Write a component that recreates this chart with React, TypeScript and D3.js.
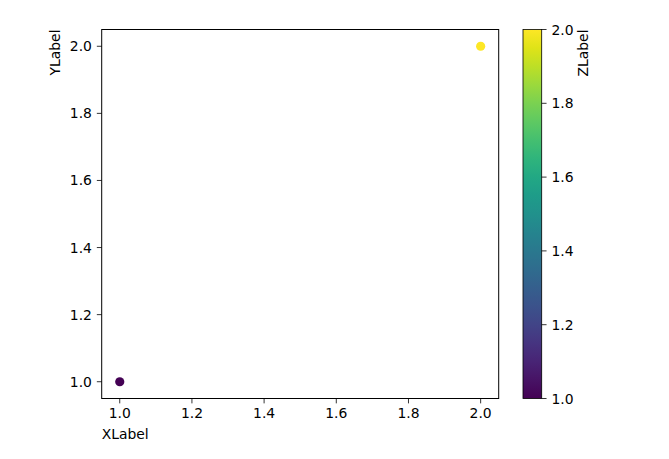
import React from "react";
import * as d3 from "d3";

const xs = [1, 2];
const ys = [1, 2];
const zs = [1, 2];
const xTicks = [1.0, 1.2, 1.4, 1.6, 1.8, 2.0];
const yTicks = [1.0, 1.2, 1.4, 1.6, 1.8, 2.0];
const zTicks = [1.0, 1.2, 1.4, 1.6, 1.8, 2.0];

const W = 669, H = 459;
const L = 101.7, R = 498.7, T = 29.5, B = 398.5;
const CBL = 523, CBR = 541.7;
const FS = 13.9;
const font = "DejaVu Sans";

export default function App() {
  const x = d3.scaleLinear().domain([0.95, 2.05]).range([L, R]);
  const y = d3.scaleLinear().domain([0.95, 2.05]).range([B, T]);
  const z = d3.scaleLinear().domain([1, 2]).range([B, T]);
  const color = d3.scaleSequential(d3.interpolateViridis).domain([1, 2]);
  const stops = d3.range(0, 1.0001, 0.05);
  const tl = 4.86;
  return (
    <svg width={W} height={H} style={{ display: "block", position: "absolute", left: 0, top: 0 }}
      fontFamily={font} fontSize={FS}>
      <rect width={W} height={H} fill="white" />
      <defs>
        <linearGradient id="vir" x1="0" y1="1" x2="0" y2="0">
          {stops.map((s, i) => (
            <stop key={i} offset={s} stopColor={d3.interpolateViridis(s)} />
          ))}
        </linearGradient>
      </defs>
      {xs.map((v, i) => (
        <circle key={i} cx={x(v)} cy={y(ys[i])} r={4.6} fill={color(zs[i])} />
      ))}
      <rect x={L} y={T} width={R - L} height={B - T} fill="none" stroke="black" strokeWidth={1} />
      {xTicks.map((t) => (
        <g key={"x" + t}>
          <line x1={x(t)} x2={x(t)} y1={B} y2={B + tl} stroke="black" strokeWidth={0.8} />
          <text x={x(t)} y={B + tl + 4.9 + 10.2} textAnchor="middle">{t.toFixed(1)}</text>
        </g>
      ))}
      {yTicks.map((t) => (
        <g key={"y" + t}>
          <line x1={L - tl} x2={L} y1={y(t)} y2={y(t)} stroke="black" strokeWidth={0.8} />
          <text x={L - tl - 4.9} y={y(t)} dy="0.36em" textAnchor="end">{t.toFixed(1)}</text>
        </g>
      ))}
      <text x={L} y={439} textAnchor="start">XLabel</text>
      <text transform={`translate(59.5,${T}) rotate(-90)`} textAnchor="end">YLabel</text>
      <rect x={CBL} y={T} width={CBR - CBL} height={B - T} fill="url(#vir)" />
      <rect x={CBL} y={T} width={CBR - CBL} height={B - T} fill="none" stroke="black" strokeWidth={0.8} />
      {zTicks.map((t) => (
        <g key={"z" + t}>
          <line x1={CBR} x2={CBR + tl} y1={z(t)} y2={z(t)} stroke="black" strokeWidth={0.8} />
          <text x={CBR + tl + 4.9} y={z(t)} dy="0.36em" textAnchor="start">{t.toFixed(1)}</text>
        </g>
      ))}
      <text transform={`translate(588,${T}) rotate(-90)`} textAnchor="end">ZLabel</text>
    </svg>
  );
}
